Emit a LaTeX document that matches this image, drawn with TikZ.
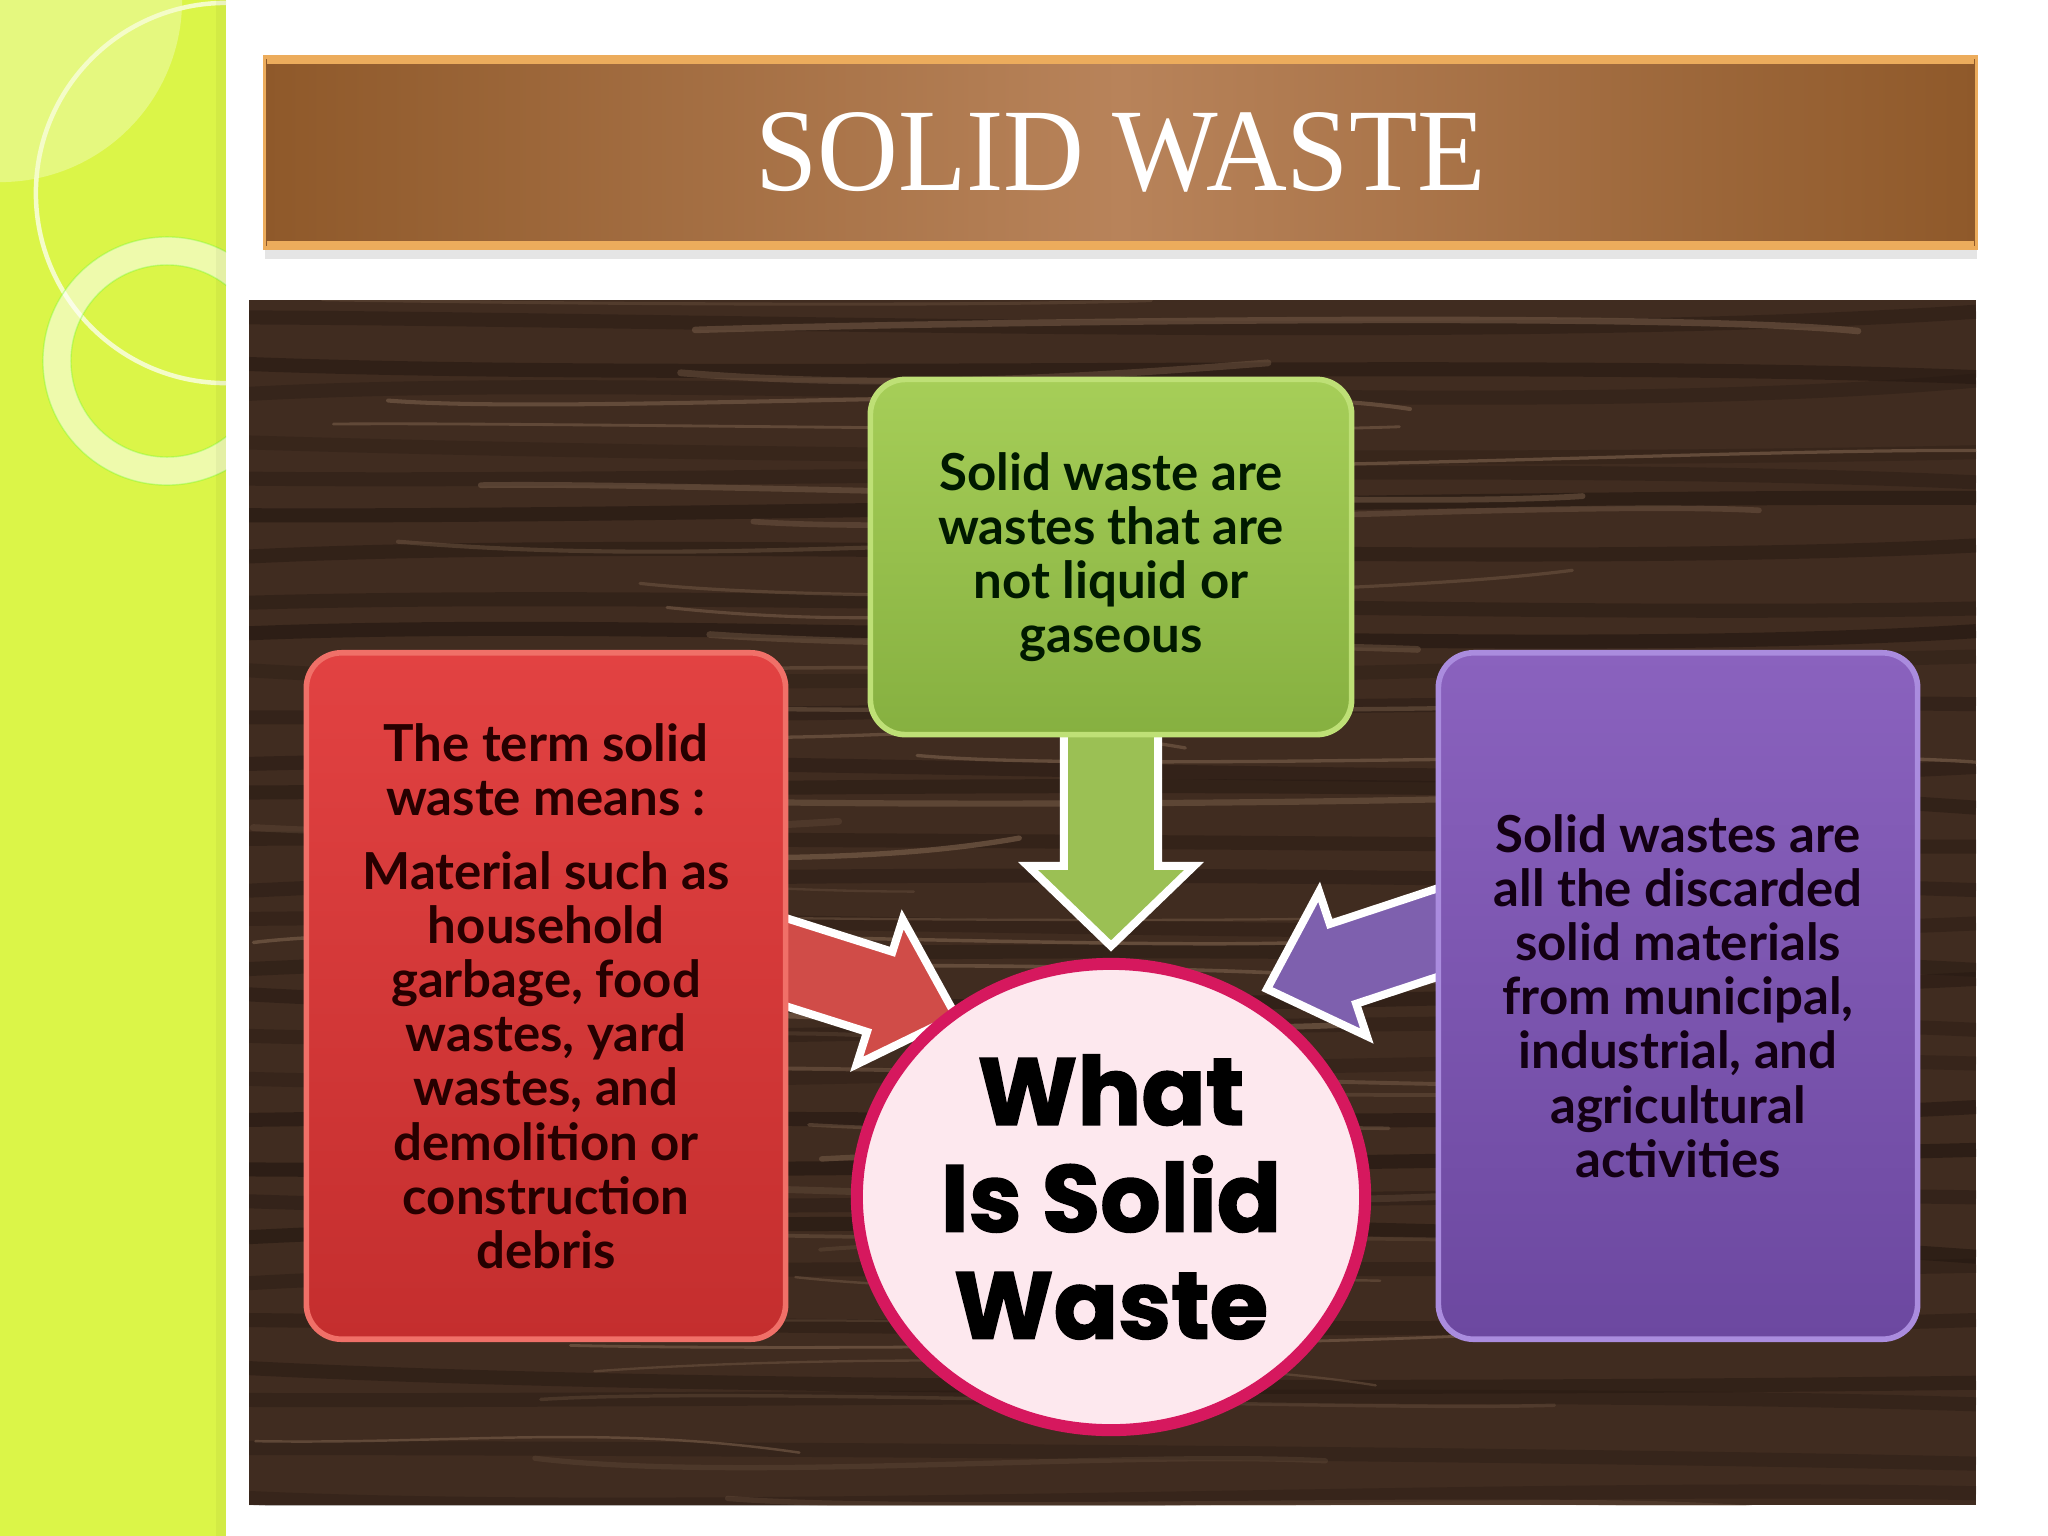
\documentclass[tikz,border=0pt]{standalone}
\usepackage{fontspec}
\setmainfont{Lato}
\newfontfamily\titlefont{Liberation Serif}[FakeStretch=0.95]
\newfontfamily\heavyfont{Poppins}[BoldFeatures={FakeBold=1.5}]
\usetikzlibrary{calc,positioning,shapes.geometric,shadows}

\definecolor{limebg}{RGB}{219,245,72}
\definecolor{wood}{RGB}{64,44,32}
\definecolor{grainlight}{RGB}{118,92,72}
\definecolor{graindark}{RGB}{38,25,18}
\definecolor{barbrown}{RGB}{143,89,42}
\definecolor{barlight}{RGB}{184,131,90}
\definecolor{baredge}{RGB}{236,172,92}
\definecolor{leaftop}{RGB}{166,206,88}
\definecolor{leafbot}{RGB}{134,176,64}
\definecolor{leafedge}{RGB}{190,224,118}
\definecolor{leafarrow}{RGB}{155,192,84}
\definecolor{termtop}{RGB}{226,66,66}
\definecolor{termbot}{RGB}{196,46,46}
\definecolor{termedge}{RGB}{240,112,104}
\definecolor{termarrow}{RGB}{208,76,72}
\definecolor{discardtop}{RGB}{138,98,190}
\definecolor{discardbot}{RGB}{108,72,160}
\definecolor{discardedge}{RGB}{170,140,222}
\definecolor{discardarrow}{RGB}{126,96,174}
\definecolor{hubfill}{RGB}{253,232,238}
\definecolor{hubedge}{RGB}{214,24,94}

\pgfdeclarelayer{board}
\pgfdeclarelayer{links}
\pgfsetlayers{board,links,main}

\tikzset{blockshaft/.initial=0.42cm, blockhead/.initial=0.76cm, blocklen/.initial=0.8cm}
\newcommand\blockarrow[3][]%
{\path[draw=white,line width=0.08cm,line join=miter,miter limit=4,#1]
	let \p1=(#2), \p2=(#3), \p3=($(#3)!\pgfkeysvalueof{/tikz/blocklen}!(#2)$),
	\n1={atan2(\y2-\y1,\x2-\x1)}
	in ($(\p1)+(\n1+90:\pgfkeysvalueof{/tikz/blockshaft})$)
	-- ($(\p3)+(\n1+90:\pgfkeysvalueof{/tikz/blockshaft})$)
	-- ($(\p3)+(\n1+90:\pgfkeysvalueof{/tikz/blockhead})$)
	-- (\p2)
	-- ($(\p3)+(\n1-90:\pgfkeysvalueof{/tikz/blockhead})$)
	-- ($(\p3)+(\n1-90:\pgfkeysvalueof{/tikz/blockshaft})$)
	-- ($(\p1)+(\n1-90:\pgfkeysvalueof{/tikz/blockshaft})$) -- cycle;%
}

\begin{document}
\begin{tikzpicture}[x=0.01cm,y=-0.01cm]
		\tikzstyle{titlebar}=[rectangle,minimum width=17.11cm,minimum height=1.91cm,left color=barbrown,right color=barbrown,middle color=barlight,draw=baredge,line width=1pt,text=white,font=\titlefont\fontsize{33.5}{33.5}\selectfont,drop shadow={opacity=0.2,shadow xshift=0pt,shadow yshift=-3pt}]
		\tikzstyle{card}=[rectangle,rounded corners=0.35cm,minimum width=4.79cm,minimum height=6.86cm,line width=1.6pt,align=center,inner sep=0pt,font=\bfseries\fontsize{14.5}{15.4}\selectfont]
		\tikzstyle{hub}=[ellipse,minimum width=5.08cm,minimum height=4.66cm,inner sep=0pt,fill=hubfill,draw=hubedge,line width=0.12cm,align=center,font=\heavyfont\bfseries\fontsize{27}{30.4}\selectfont]
		\tikzstyle{paleline}=[draw=white!70!limebg]

		\useasboundingbox (0,0) rectangle (2048,1536);
		\begin{pgfonlayer}{board}
			\fill[white] (0,0) rectangle (2048,1536);
			% left strip
			\begin{scope}
				\clip (0,0) rectangle (226,1536);
				\fill[limebg] (0,0) rectangle (226,1536);
				\fill[white,opacity=0.3] (0,0) circle[radius=1.82cm];
				\draw[paleline,line width=0.045cm] (226,193) circle[radius=1.9cm];
				\draw[white,opacity=0.55,line width=0.28cm] (167,361) circle[radius=1.1cm];
				\draw[green!50!limebg,opacity=0.35,line width=0.4pt] (167,361) circle[radius=1.24cm] (167,361) circle[radius=0.96cm];
				\fill[black,opacity=0.04] (216,0) rectangle (226,1536);
			\end{scope}
			% wood board
			\fill[wood] (249,300) rectangle (1976,1505);
			\begin{scope}
				\clip (249,300) rectangle (1976,1505);
				\pgfmathsetseed{42}
				\foreach \g in {0,...,29}{
					\pgfmathsetmacro\yy{315+\g*40.5+10*rand}
					\pgfmathsetmacro\op{0.3+0.4*rnd}
					\draw[graindark,draw opacity=\op,line width=4pt] (249,\yy) .. controls (700,\yy+30*rand) and (1500,\yy+30*rand) .. (1976,\yy+20*rand);
				}
				\foreach \g in {0,...,39}{
					\pgfmathsetmacro\yy{305+\g*30.5+8*rand}
					\pgfmathsetmacro\xa{249+700*rnd}
					\pgfmathsetmacro\xb{\xa+500+700*rnd}
					\pgfmathsetmacro\op{0.25+0.45*rnd}
					\pgfmathsetmacro\lw{0.6+1.4*rnd}
					\draw[grainlight,draw opacity=\op,line width=\lw pt,line cap=round] (\xa,\yy) .. controls (\xa+200,\yy+25*rand) and (\xb-200,\yy+25*rand) .. (\xb,\yy+15*rand);
				}
			\end{scope}
		\end{pgfonlayer}

		\node[titlebar] (title) at (1120.5,152.5) {SOLID WASTE};
		\draw[baredge,line width=0.06cm] ($(title.north west)+(4,6)$) -- ($(title.north east)+(-4,6)$);
		\draw[baredge,line width=0.06cm] ($(title.south west)+(4,-6)$) -- ($(title.south east)+(-4,-6)$);

		\node[hub] (whatis) at (1111,1197) {What\\Is Solid\\Waste};
		\node[card,top color=leaftop,bottom color=leafbot,draw=leafedge,minimum width=4.81cm,minimum height=3.55cm,text=black!90!green] (liquid) at (1111,557) {Solid waste are\\wastes that are\\not liquid or\\gaseous};
		\node[card,top color=termtop,bottom color=termbot,draw=termedge,text=black!85!red] (term) at (546,996) {The term solid\\waste means :\\[0.2cm]Material such as\\household\\garbage, food\\wastes, yard\\wastes, and\\demolition or\\construction\\debris};
		\node[card,top color=discardtop,bottom color=discardbot,draw=discardedge,text=black!85!violet] (discard) at (1678,996) {Solid wastes are\\all the discarded\\solid materials\\from municipal,\\industrial, and\\agricultural\\activities};

		\coordinate (liquidfoot) at ($(liquid.south)+(0,-25)$);
		\coordinate (liquidtip) at (1111,946);
		\coordinate (termfoot) at ($(term.east)+(-25,-41)$);
		\coordinate (termtip) at (956,1016);
		\coordinate (discardfoot) at ($(discard.west)+(25,-71)$);
		\coordinate (discardtip) at (1267,989);
		\begin{pgfonlayer}{links}
			\blockarrow[fill=leafarrow,blockshaft=0.47cm,blockhead=0.83cm]{liquidfoot}{liquidtip}
			\blockarrow[fill=termarrow]{termfoot}{termtip}
			\blockarrow[fill=discardarrow]{discardfoot}{discardtip}
		\end{pgfonlayer}
	\end{tikzpicture}
\end{document}
